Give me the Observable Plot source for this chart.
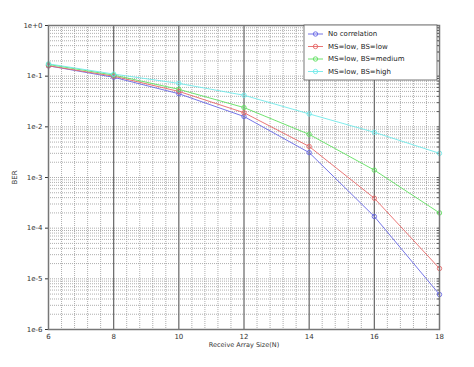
<!DOCTYPE html>
<html><head><meta charset="utf-8">
<script src="https://cdn.jsdelivr.net/npm/d3@7"></script>
<script src="https://cdn.jsdelivr.net/npm/@observablehq/plot@0.6"></script>
<style>body{margin:0;background:#fff;} #chart{position:relative;width:474px;height:367px;}</style>
</head><body><div id="chart"></div>
<script>
const N = [6, 8, 10, 12, 14, 16, 18];
const seriesNames = ["No correlation", "MS=low, BS=low", "MS=low, BS=medium", "MS=low, BS=high"];
const noCorr   = [0.16, 0.095, 0.045, 0.016, 0.0031, 1.7e-4, 4.9e-6];
const lowLow   = [0.16, 0.1, 0.05, 0.019, 0.0041, 3.9e-4, 1.6e-5];
const lowMed   = [0.17, 0.105, 0.055, 0.024, 0.0071, 0.0014, 2.0e-4];
const lowHigh  = [0.175, 0.11, 0.072, 0.042, 0.018, 0.0078, 0.003];
const colors = ["#6666e4", "#e66666", "#60e060", "#70eaea"];
const xTicks = [6, 8, 10, 12, 14, 16, 18];
const yTicks = [1, 1e-1, 1e-2, 1e-3, 1e-4, 1e-5, 1e-6];
const yTickLabels = ["1e+0", "1e-1", "1e-2", "1e-3", "1e-4", "1e-5", "1e-6"];

const all = [noCorr, lowLow, lowMed, lowHigh];
const data = [];
all.forEach((vals, i) => vals.forEach((v, j) => data.push({N: N[j], BER: v, s: seriesNames[i]})));

const minorX = d3.range(6, 18.001, 0.4).filter(v => Math.abs(v / 2 - Math.round(v / 2)) > 1e-6);
const minorY = [];
for (let e = -6; e < 0; e++) for (let k = 1; k <= 9; k++) minorY.push(k * Math.pow(10, e));
minorY.push(1);

const font = "DejaVu Sans";
const plot = Plot.plot({
  width: 474, height: 367,
  marginLeft: 48, marginRight: 35, marginTop: 25, marginBottom: 38,
  style: {fontFamily: font, fontSize: "7px", background: "#fff", color: "#333"},
  x: {type: "linear", domain: [6, 18]},
  y: {type: "log", domain: [1e-6, 1]},
  color: {domain: seriesNames, range: colors},
  marks: [
    Plot.ruleX(minorX, {stroke: "#999", strokeDasharray: "1,1", strokeWidth: 0.8}),
    Plot.ruleY(minorY, {stroke: "#999", strokeDasharray: "1,1", strokeWidth: 0.8}),
    Plot.ruleX([8, 10, 12, 14, 16], {stroke: "#666", strokeWidth: 1.2}),
    Plot.axisY({anchor: "right", ticks: minorY, tickSize: -3, tickFormat: () => "", label: null, stroke: "#555"}),
    Plot.axisX({ticks: xTicks, tickSize: 0, tickPadding: 5, label: null}),
    Plot.text(["Receive Array Size(N)"], {frameAnchor: "bottom", dy: 17, fontSize: 6.5, fill: "#333"}),
    Plot.axisY({ticks: yTicks, tickFormat: (d) => yTickLabels[yTicks.indexOf(d)], tickSize: 3, tickPadding: 3, label: "BER", labelAnchor: "center", labelArrow: "none", labelOffset: 36}),
    Plot.line(data, {x: "N", y: "BER", stroke: "s", strokeWidth: 0.9}),
    Plot.dot(data, {x: "N", y: "BER", stroke: "s", r: 2.2, strokeWidth: 0.9}),
    Plot.frame({stroke: "#777", strokeWidth: 1.5})
  ]
});
document.getElementById("chart").appendChild(plot);

// legend
const svg = d3.select(plot);
const lg = svg.append("g").attr("transform", "translate(304,25)").attr("text-anchor", "start");
lg.append("rect").attr("width", 133).attr("height", 55).attr("fill", "#fff").attr("stroke", "#555").attr("stroke-width", 0.8);
seriesNames.forEach((name, i) => {
  const y = 9 + i * 12.5;
  const g = lg.append("g").attr("transform", `translate(0,${y})`);
  g.append("line").attr("x1", 4).attr("x2", 19).attr("stroke", colors[i]).attr("stroke-width", 0.9);
  g.append("circle").attr("cx", 11.5).attr("r", 2.2).attr("fill", "none").attr("stroke", colors[i]).attr("stroke-width", 0.9);
  g.append("text").attr("x", 24).attr("dy", "0.32em").attr("text-anchor", "start").attr("font-family", font).attr("font-size", "7px").attr("fill", "#222").text(name);
});
</script></body></html>
